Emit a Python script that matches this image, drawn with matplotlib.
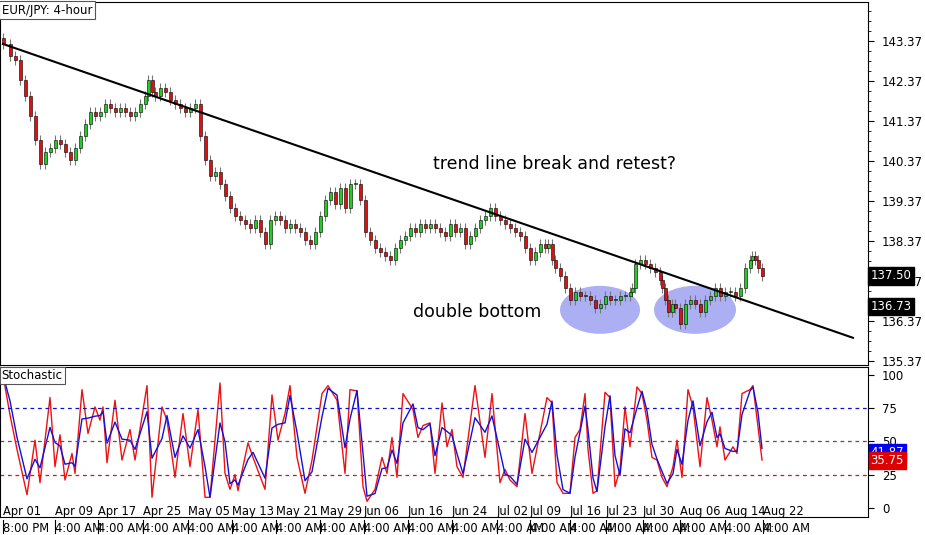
import numpy as np
import matplotlib.pyplot as plt
from matplotlib.patches import Ellipse, Rectangle

# bar position (chart x units) and closing price
price_pos = [3, 10, 15, 20, 25, 30, 35, 40, 45, 50, 55, 60, 65, 70, 75, 80, 85, 90, 95, 100,
             105, 110, 115, 120, 125, 130, 135, 140, 145, 148, 152, 155, 160, 165, 170, 175, 180, 185, 190, 195,
             200, 205, 210, 215, 220, 225, 230, 235, 240, 245, 250, 255, 260, 265, 270, 275, 280, 285, 290, 295,
             300, 305, 310, 315, 320, 325, 330, 335, 340, 345, 350, 355, 360, 365, 370, 375, 380, 385, 390, 395,
             400, 405, 410, 415, 420, 425, 430, 435, 440, 445, 450, 455, 460, 465, 470, 475, 480, 485, 490, 495,
             500, 505, 510, 515, 520, 525, 530, 535, 540, 545, 548, 552, 555, 560, 565, 570, 575, 580, 585, 590,
             595, 600, 605, 610, 615, 620, 625, 630, 632, 635, 640, 645, 650, 655, 660, 662, 665, 668, 672, 675,
             680, 685, 690, 695, 700, 705, 710, 715, 720, 725, 730, 735, 740, 745, 750, 752, 755, 758, 762]
price_close = [143.3, 143.0, 142.9, 142.4, 142.0, 141.5, 140.9, 140.3, 140.6, 140.7, 140.9, 140.8, 140.6, 140.4, 140.7, 141.0, 141.3, 141.6, 141.5, 141.6,
               141.8, 141.7, 141.6, 141.7, 141.6, 141.5, 141.6, 141.8, 142.0, 142.4, 142.1, 142.0, 142.2, 142.1, 141.9, 141.8, 141.7, 141.6, 141.7, 141.8,
               141.0, 140.4, 140.0, 140.1, 139.8, 139.5, 139.2, 139.0, 138.9, 138.8, 138.7, 138.9, 138.6, 138.3, 138.9, 139.0, 138.9, 138.7, 138.8, 138.7,
               138.6, 138.4, 138.3, 138.6, 139.0, 139.4, 139.6, 139.3, 139.7, 139.2, 139.8, 139.8, 139.4, 138.6, 138.4, 138.2, 138.1, 138.0, 137.9, 138.2,
               138.4, 138.5, 138.7, 138.6, 138.8, 138.7, 138.8, 138.7, 138.6, 138.5, 138.8, 138.6, 138.7, 138.3, 138.5, 138.7, 138.9, 139.0, 139.2, 139.0,
               138.9, 138.8, 138.7, 138.6, 138.5, 138.2, 137.9, 138.1, 138.3, 138.2, 138.3, 137.9, 137.7, 137.5, 137.2, 136.9, 137.1, 137.0, 137.0, 136.9,
               136.7, 136.8, 137.0, 136.9, 136.9, 137.0, 137.0, 137.1, 137.2, 137.8, 137.9, 137.8, 137.7, 137.6, 137.4, 137.2, 136.9, 136.6, 136.8, 136.7,
               136.3, 136.8, 136.9, 136.8, 136.6, 136.9, 137.0, 137.2, 137.0, 137.1, 137.1, 137.0, 137.2, 137.7, 137.9, 138.0, 137.9, 137.7, 137.5]

stoch_pos = [3, 10, 17, 27, 35, 40, 50, 55, 60, 65, 72, 75, 82, 88, 95, 100, 103, 107, 115, 122,
             130, 135, 147, 152, 162, 167, 175, 183, 190, 198, 205, 210, 220, 225, 230, 235, 238, 248, 253, 265,
             272, 278, 285, 290, 297, 305, 312, 322, 328, 337, 345, 350, 357, 363, 367, 375, 382, 387, 392, 397,
             403, 413, 418, 423, 430, 435, 442, 447, 452, 457, 463, 475, 485, 492, 500, 505, 510, 517, 525, 532,
             547, 552, 557, 563, 570, 575, 580, 585, 588, 593, 597, 605, 610, 615, 620, 625, 630, 637, 642, 647,
             652, 657, 662, 667, 673, 677, 682, 688, 693, 700, 707, 712, 717, 720, 725, 733, 737, 742, 750, 753,
             758, 762]
stoch_k = [100, 70, 44, 10, 51, 19, 83, 31, 55, 21, 41, 26, 89, 56, 76, 66, 76, 34, 81, 36,
           59, 36, 92, 8, 76, 66, 23, 71, 31, 74, 8, 8, 94, 26, 14, 25, 13, 49, 38, 14,
           85, 51, 71, 92, 38, 11, 36, 86, 92, 81, 26, 89, 88, 16, 5, 14, 38, 26, 53, 23,
           86, 74, 53, 62, 64, 26, 79, 46, 59, 31, 23, 92, 38, 86, 19, 29, 21, 16, 71, 26,
           83, 79, 19, 11, 11, 53, 59, 86, 44, 11, 13, 87, 83, 16, 29, 76, 46, 91, 86, 66,
           38, 36, 23, 16, 31, 51, 23, 89, 76, 31, 83, 66, 46, 61, 36, 46, 41, 86, 89, 92,
           61, 36]

date_pos = [3, 55, 98, 143, 188, 232, 276, 320, 364, 408, 452, 497, 530, 570, 606, 643, 680, 725, 763]
date_labels = ["Apr 01", "Apr 09", "Apr 17", "Apr 25", "May 05", "May 13", "May 21", "May 29", "Jun 06",
               "Jun 16", "Jun 24", "Jul 02", "Jul 09", "Jul 16", "Jul 23", "Jul 30", "Aug 06", "Aug 14", "Aug 22"]
price_ticks = [143.37, 142.37, 141.37, 140.37, 139.37, 138.37, 137.37, 136.37, 135.37]

W, H = 925, 535
fig = plt.figure(figsize=(9.25, 5.35), dpi=100)
plt.rcParams['font.family'] = ['DejaVu Sans']
XMAX = 868
ax = fig.add_axes([0, 1 - 365 / H, XMAX / W, 363 / H])
ax2 = fig.add_axes([0, 1 - 517 / H, XMAX / W, 150 / H])

# candles
closes = np.array(price_close)
opens = np.r_[closes[0] + 0.15, closes[:-1]]
for x, o, c in zip(price_pos, opens, closes):
    lo, hi = min(o, c), max(o, c)
    ax.vlines(x, lo - 0.12, hi + 0.12, color="#777777", lw=0.8, zorder=2)
    col = "#22cc22" if c >= o else "#dd1111"
    ax.add_patch(Rectangle((x - 1.5, lo), 3, max(hi - lo, 0.03), facecolor=col,
                           edgecolor="black", lw=0.4, zorder=3))

ax.plot([3, 853], [143.3, 135.95], color="black", lw=1.5, zorder=4)
for cx, w in [(600, 80), (695, 82)]:
    ax.add_patch(Ellipse((cx, 136.65), w, 1.2, color="#9ea3f0", alpha=0.85, zorder=1, lw=0))
ax.text(433, 140.3, "trend line break and retest?", fontsize=12.5, va="center")
ax.text(413, 136.6, "double bottom", fontsize=12.5, va="center")
ax.set_xlim(0, XMAX)
ax.set_ylim(135.27, 144.35)
ax.set_xticks([])
ax.yaxis.tick_right()
ax.set_yticks(price_ticks)
ax.set_yticks(np.arange(135.37, 144.3, 0.25), minor=True)
ax.tick_params(axis="y", labelsize=8.5, length=4, pad=6)
ax.tick_params(axis="y", which="minor", length=2)
for v, txt in [(137.50, "137.50"), (136.73, "136.73")]:
    ax.text(1.003, v, txt, transform=ax.get_yaxis_transform(), fontsize=8.5, color="white",
            va="center", ha="left", zorder=10,
            bbox=dict(boxstyle="square,pad=0.2", fc="black", ec="black"))
ax.text(0.002, 0.995, "EUR/JPY: 4-hour", transform=ax.transAxes, fontsize=8.5, va="top",
        bbox=dict(boxstyle="square,pad=0.2", fc="white", ec="#555555", lw=0.8))

# stochastic: %D drawn as a short lag of %K
k = np.array(stoch_k, dtype=float)
d = 0.65 * k + 0.35 * np.r_[k[0], k[:-1]]
ax2.plot(stoch_pos, k, color="#ee1111", lw=1)
ax2.plot(stoch_pos, d, color="#1111dd", lw=1)
for lv, col in [(75, "#1111cc"), (50, "#555555"), (25, "#dd1111")]:
    ax2.axhline(lv, color=col, ls=(0, (3, 3)), lw=0.9)
ax2.set_xlim(0, XMAX)
ax2.set_ylim(-6.8, 106)
ax2.yaxis.tick_right()
ax2.set_yticks([0, 25, 50, 75, 100])
ax2.tick_params(axis="y", labelsize=8.5, length=4, pad=6)
ax2.set_xticks([])
ax2.text(1.003, 41.87, "41.87", transform=ax2.get_yaxis_transform(), fontsize=8.5, color="white",
         va="center", zorder=10, bbox=dict(boxstyle="square,pad=0.15", fc="#0000ee", ec="#0000ee"))
ax2.text(1.003, 35.75, "35.75", transform=ax2.get_yaxis_transform(), fontsize=8.5, color="white",
         va="center", zorder=10, bbox=dict(boxstyle="square,pad=0.15", fc="#dd0000", ec="#dd0000"))
ax2.text(0.002, 0.985, "Stochastic", transform=ax2.transAxes, fontsize=8.5, va="top",
         bbox=dict(boxstyle="square,pad=0.15", fc="white", ec="#555555", lw=0.8))

# date labels along the bottom
for i, (x, lab) in enumerate(zip(date_pos, date_labels)):
    xf = x / W
    fig.text(xf, 1 - 512 / H, lab, fontsize=8.3, va="center", ha="left")
    fig.text(xf, 1 - 528 / H, "8:00 PM" if i == 0 else "4:00 AM", fontsize=8.3, va="center", ha="left")
    fig.add_artist(plt.Line2D([xf, xf], [1 - 533 / H, 1 - 520 / H], color="black", lw=0.8))

fig.savefig("out.png", dpi=100)
